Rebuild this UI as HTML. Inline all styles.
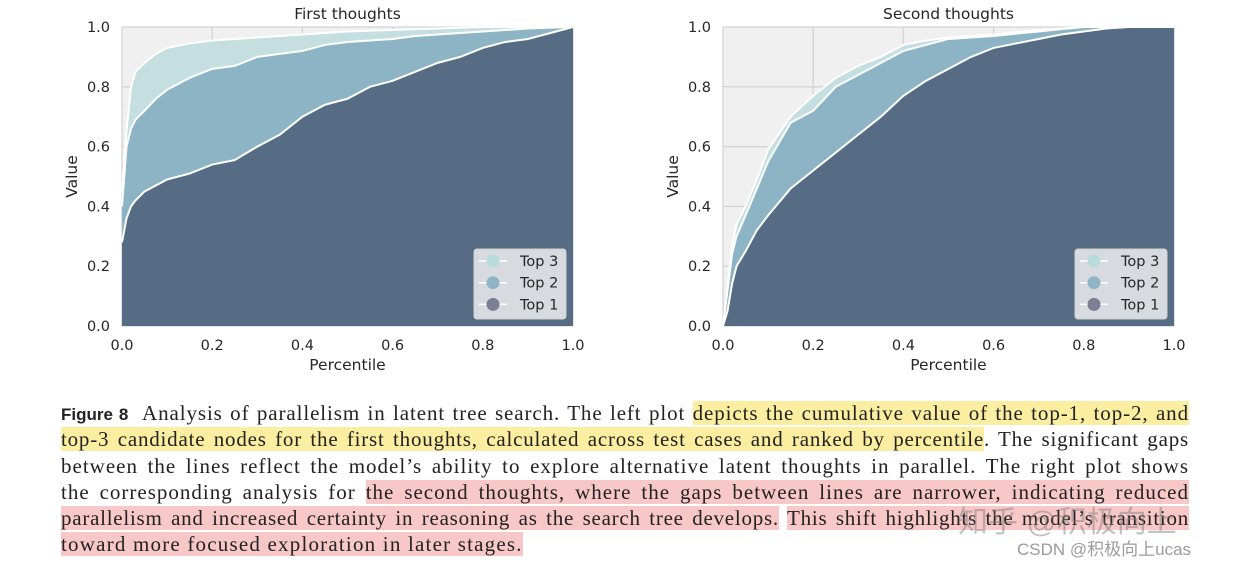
<!DOCTYPE html>
<html><head><meta charset="utf-8"><style>
body{margin:0;width:1260px;height:567px;background:#fff;position:relative;overflow:hidden;font-family:"DejaVu Sans","Liberation Sans",sans-serif}
svg{position:absolute;left:0;top:0}
.cap{position:absolute;left:61px;width:1128px;font-family:"Liberation Serif","DejaVu Serif",serif;font-size:21px;letter-spacing:1.0px;color:#222;text-align:justify;text-align-last:justify;white-space:nowrap;line-height:24px;height:24px}
.y{background:#fbeea0}.p{background:#f8c8c8}
.fig{font-family:"Liberation Sans",sans-serif;font-weight:bold;font-size:17px;letter-spacing:0}
.wm{position:absolute;color:rgba(120,120,120,0.45);font-family:"Liberation Sans","Noto Sans CJK SC",sans-serif}
</style></head><body>
<svg id="chart" width="1260" height="390"></svg>
<div class="cap" style="top:401px;letter-spacing:0.9px"><span class="fig">Figure 8</span>&nbsp; Analysis of parallelism in latent tree search. The left plot <span class="y">depicts the cumulative value of the top-1, top-2, and</span></div>
<div class="cap" style="top:427px;letter-spacing:0.8px"><span class="y">top-3 candidate nodes for the first thoughts, calculated across test cases and ranked by percentile</span>. The significant gaps</div>
<div class="cap" style="top:454px">between the lines reflect the model’s ability to explore alternative latent thoughts in parallel. The right plot shows</div>
<div class="cap" style="top:480px">the corresponding analysis for <span class="p">the second thoughts, where the gaps between lines are narrower, indicating reduced</span></div>
<div class="cap" style="top:506px;letter-spacing:0.75px"><span class="p">parallelism and increased certainty in reasoning as the search tree develops.</span> <span class="p">This shift highlights the model’s transition</span></div>
<div class="cap" style="top:532px;text-align-last:left;letter-spacing:1.2px"><span class="p">toward more focused exploration in later stages.</span></div>
<div class="wm" style="left:958px;top:497px;font-size:30px">知乎 @积极向上</div>
<div class="wm" style="left:1017px;top:535px;font-size:17px;color:rgba(130,130,130,0.8)">CSDN @积极向上ucas</div>
<script>
const xs = [0,0.01,0.02,0.03,0.05,0.075,0.1,0.15,0.2,0.25,0.3,0.35,0.4,0.45,0.5,0.55,0.6,0.65,0.7,0.75,0.8,0.85,0.9,0.95,1.0];
const firstTop1 = [0.28,0.36,0.40,0.42,0.45,0.47,0.49,0.51,0.54,0.555,0.60,0.64,0.70,0.74,0.76,0.80,0.82,0.85,0.88,0.90,0.93,0.95,0.96,0.98,1.0];
const firstTop2 = [0.40,0.60,0.66,0.69,0.72,0.76,0.79,0.83,0.86,0.87,0.90,0.91,0.92,0.94,0.95,0.955,0.96,0.97,0.975,0.98,0.985,0.99,0.995,0.998,1.0];
const firstTop3 = [0.45,0.65,0.80,0.85,0.88,0.91,0.93,0.945,0.955,0.96,0.965,0.97,0.975,0.98,0.985,0.988,0.99,0.993,0.995,0.998,1.0,1.0,1.0,1.0,1.0];
const secondTop1 = [0,0.05,0.14,0.20,0.25,0.32,0.37,0.46,0.52,0.58,0.64,0.70,0.77,0.82,0.86,0.90,0.93,0.945,0.96,0.975,0.985,0.995,1.0,1.0,1.0];
const secondTop2 = [0,0.12,0.24,0.30,0.37,0.46,0.55,0.68,0.72,0.80,0.84,0.88,0.92,0.94,0.96,0.965,0.97,0.978,0.985,0.993,1.0,1.0,1.0,1.0,1.0];
const secondTop3 = [0,0.13,0.27,0.34,0.40,0.49,0.59,0.70,0.77,0.83,0.87,0.90,0.94,0.955,0.965,0.97,0.975,0.983,0.99,0.995,1.0,1.0,1.0,1.0,1.0];
const ticks = [0,0.2,0.4,0.6,0.8,1.0];
const tickLabels = ["0.0","0.2","0.4","0.6","0.8","1.0"];
const legendLabels = ["Top 3","Top 2","Top 1"];

const NS="http://www.w3.org/2000/svg";
const svg=document.getElementById('chart');
const colors=["#c5dfe1","#8cb4c5","#566b84"];
const legendColors=["#b8dbdc","#8fb4c6","#7c7f93"];
function mk(tag,attrs,parent){const e=document.createElementNS(NS,tag);for(const k in attrs)e.setAttribute(k,attrs[k]);(parent||svg).appendChild(e);return e;}
function drawChart(ox,title,t1,t2,t3,prefix){
  const x0=ox,x1=ox+451,y0=326,y1=27;
  const X=v=>x0+v*(x1-x0), Y=v=>y0-v*(y0-y1);
  const g=mk('g',{});
  
  
  const bg=mk('rect',{x:x0,y:y1,width:x1-x0,height:y0-y1,fill:'#f0f0f0',stroke:'#d0d0d0'},g);
  
  
  ticks.forEach((t,i)=>{
    mk('line',{x1:X(t),x2:X(t),y1:y1,y2:y0,stroke:'#d4d4d4','stroke-width':1.3},g);
    mk('line',{x1:x0,x2:x1,y1:Y(t),y2:Y(t),stroke:'#d4d4d4','stroke-width':1.3},g);
    const tx=mk('text',{x:X(t),y:y0+24,'text-anchor':'middle','font-size':14.5,fill:'#262626'},g);
    tx.textContent=tickLabels[i];
    
    
    const ty=mk('text',{x:x0-12,y:Y(t)+5,'text-anchor':'end','font-size':14.5,fill:'#262626'},g);
    ty.textContent=tickLabels[i];
    
    
  });
  const series=[t3,t2,t1];
  series.forEach((s,k)=>{
    let d='M'+X(xs[0])+','+Y(0);
    xs.forEach((v,i)=>{d+=' L'+X(v).toFixed(2)+','+Y(s[i]).toFixed(2);});
    d+=' L'+X(xs[xs.length-1])+','+Y(0)+' Z';
    const a=mk('path',{d:d,fill:colors[k],stroke:'none'},g);
    
    
    let ld='';
    xs.forEach((v,i)=>{ld+=(i?' L':'M')+X(v).toFixed(2)+','+Y(s[i]).toFixed(2);});
    const l=mk('path',{d:ld,fill:'none',stroke:'#fff','stroke-width':2},g);
    
    
  });
  const tt=mk('text',{x:(x0+x1)/2,y:19,'text-anchor':'middle','font-size':15.5,fill:'#262626'},g);
  tt.textContent=title;
  
  
  const xl=mk('text',{x:(x0+x1)/2,y:370,'text-anchor':'middle','font-size':15.5,fill:'#262626'},g);
  xl.textContent='Percentile';
  
  
  const yl=mk('text',{x:0,y:0,'text-anchor':'middle','font-size':15.5,fill:'#262626',transform:'translate('+(x0-45)+','+((y0+y1)/2)+') rotate(-90)'},g);
  yl.textContent='Value';
  
  
  const lg=mk('g',{},g);
  
  
  mk('rect',{x:x1-99,y:249,width:92,height:70,rx:3,fill:'#e2e5e8','fill-opacity':0.92,stroke:'#d0d0d0'},lg);
  legendLabels.forEach((lab,i)=>{
    const cy=261+i*21.7;
    mk('line',{x1:x1-94,x2:x1-66,y1:cy,y2:cy,stroke:'#fff','stroke-width':1.5},lg);
    mk('circle',{cx:x1-80,cy:cy,r:6.5,fill:legendColors[i]},lg);
    const t=mk('text',{x:x1-53,y:cy+5,'font-size':14.5,fill:'#262626'},lg);
    t.textContent=lab;
    
    
  });
}
drawChart(122,'First thoughts',firstTop1,firstTop2,firstTop3,'first');
drawChart(723,'Second thoughts',secondTop1,secondTop2,secondTop3,'second');
</script>
</body></html>
